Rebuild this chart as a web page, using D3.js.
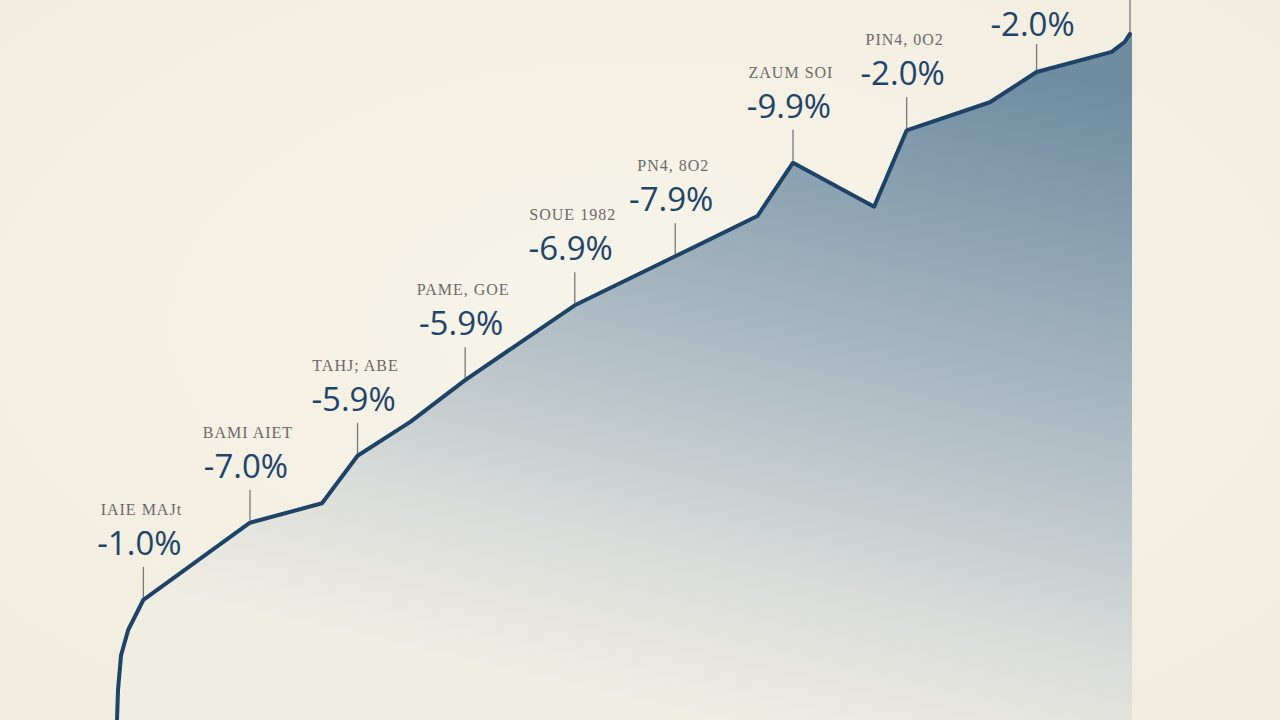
<!DOCTYPE html>
<html>
<head>
<meta charset="utf-8">
<script src="https://cdn.jsdelivr.net/npm/d3@7"></script>
<style>
html,body{margin:0;padding:0;background:#f4f0e4;overflow:hidden}
svg{display:block}
</style>
</head>
<body>
<svg id="chart" width="1280" height="720"></svg>
<script>
// ---- data ----
const tValues = [0, 0.1, 0.4, 1.1, 2.6, 13.1, 20.2, 23.7, 28.9, 34.3, 45.1, 55.0, 63.1, 66.6, 74.6, 77.8, 86.0, 90.6, 98.0, 99.3, 99.8];
const indexValues = [0, 4.2, 9.0, 12.5, 16.7, 27.4, 30.1, 36.7, 41.4, 47.2, 57.6, 64.4, 70.0, 77.4, 71.3, 81.9, 85.8, 90.0, 92.8, 94.2, 95.3];
const markerPoints = [4, 5, 7, 9, 10, 11, 13, 15, 17, 20];
const categories = ["IAIE MAJt", "BAMI AIET", "TAHJ; ABE", "PAME, GOE", "SOUE 1982", "PN4, 8O2", "ZAUM SOI", "PIN4, 0O2", ""];
const valueLabels = ["-1.0%", "-7.0%", "-5.9%", "-5.9%", "-6.9%", "-7.9%", "-9.9%", "-2.0%", "-2.0%"];

const W = 1280, H = 720;
const svg = d3.select("#chart");
const x = d3.scaleLinear().domain([0, 100]).range([117, 1132]);
const y = d3.scaleLinear().domain([0, 100]).range([720, 0]);

const defs = svg.append("defs");
const bg = defs.append("radialGradient").attr("id", "bg").attr("cx", "50%").attr("cy", "45%").attr("r", "75%");
bg.append("stop").attr("offset", "0%").attr("stop-color", "#f7f4ea");
bg.append("stop").attr("offset", "100%").attr("stop-color", "#f1ecdd");
svg.append("rect").attr("width", W).attr("height", H).attr("fill", "url(#bg)");

const g = defs.append("linearGradient").attr("id", "areaGrad")
  .attr("gradientUnits", "userSpaceOnUse")
  .attr("x1", 860).attr("y1", 30).attr("x2", 700).attr("y2", 720);
[["0%", "#6f8ca1"], ["30%", "#95aab8"], ["55%", "#b7c3c9"], ["80%", "#dcdedb"], ["100%", "#f0ede3"]]
  .forEach(([o, c]) => g.append("stop").attr("offset", o).attr("stop-color", c));

const data = tValues.map((t, i) => ({t, v: indexValues[i]}));

const areaData = data.concat([{t: 100, v: indexValues[indexValues.length - 1]}]);
svg.append("path").datum(areaData)
  .attr("d", d3.area().x(d => x(d.t)).y0(y(0)).y1(d => y(d.v)).curve(d3.curveLinear))
  .attr("fill", "url(#areaGrad)");

const tickLen = 33;
const minBaseline = 36;
const valBase = i => Math.max(y(indexValues[i]) - tickLen - 12, minBaseline);

// ticks
svg.selectAll(".tick").data(markerPoints).join("line")
  .attr("x1", i => x(tValues[i])).attr("x2", i => x(tValues[i]))
  .attr("y1", i => y(indexValues[i]) - 2)
  .attr("y2", (i, k) => k === markerPoints.length - 1 ? 0 : Math.max(y(indexValues[i]) - tickLen, valBase(i) + 8))
  .attr("stroke", "#77797a").attr("stroke-width", 1.3);

// line
svg.append("path").datum(data)
  .attr("d", d3.line().x(d => x(d.t)).y(d => y(d.v)).curve(d3.curveLinear))
  .attr("fill", "none").attr("stroke", "#1e4366").attr("stroke-width", 4)
  .attr("stroke-linejoin", "round").attr("stroke-linecap", "round");

// labels
const labelIdx = markerPoints.slice(0, valueLabels.length);
svg.selectAll(".val").data(labelIdx).join("text")
  .attr("x", i => x(tValues[i]) - 4)
  .attr("y", i => valBase(i))
  .attr("text-anchor", "middle")
  .attr("font-family", "'Open Sans', 'DejaVu Sans', sans-serif")
  .attr("font-size", 33).attr("font-weight", 500).attr("fill", "#1f4468")
  .text((d, k) => valueLabels[k]);

const catIdx = labelIdx.filter((d, k) => categories[k]);
svg.selectAll(".cat").data(catIdx).join("text")
  .attr("x", i => x(tValues[i]) - 2)
  .attr("y", i => valBase(i) - 40)
  .attr("text-anchor", "middle")
  .attr("font-family", "'Liberation Serif', 'DejaVu Serif', serif")
  .attr("font-size", 16).attr("letter-spacing", 1).attr("fill", "#6a6a6a")
  .text((d, k) => categories[k]);
</script>
</body>
</html>
